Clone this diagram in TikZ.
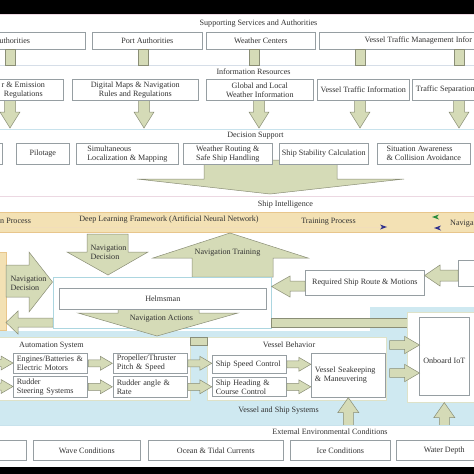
\documentclass[tikz,border=0pt]{standalone}
\usepackage{fontspec}
\setmainfont{Liberation Serif}
\usetikzlibrary{positioning,calc}
\definecolor{ArrowOlive}{RGB}{213,219,183}
\definecolor{ArrowEdge}{RGB}{138,142,118}
\definecolor{BandTan}{RGB}{243,225,180}
\definecolor{BandEdge}{RGB}{232,198,140}
\definecolor{SystemBlue}{RGB}{207,233,241}
\definecolor{BoxEdge}{RGB}{150,158,162}
\definecolor{PanelEdge}{RGB}{172,214,224}
\definecolor{PanelWarm}{RGB}{222,226,200}
\definecolor{RulePink}{RGB}{236,216,226}
\definecolor{RuleBlue}{RGB}{200,226,236}
\definecolor{LabelGray}{RGB}{50,50,50}
\definecolor{MarkGreen}{RGB}{40,140,60}
\definecolor{MarkBlue}{RGB}{50,50,140}

\begin{document}
\begin{tikzpicture}[
		x=1pt, y=-1pt,
		every node/.style={font=\fontsize{8.1}{9}\selectfont, text=LabelGray, inner sep=0pt},
		framed/.style={draw=BoxEdge, fill=white, line width=0.6pt, anchor=north west, align=center},
		leftframed/.style={framed, align=left, text width=#1, inner xsep=3.5pt},
		panel/.style={draw=PanelEdge, fill=white, line width=0.6pt, anchor=north west},
		warmpanel/.style={panel, draw=PanelWarm},
		block/.style={draw=ArrowEdge, fill=ArrowOlive, line width=0.5pt},
		rarrow/.pic={\draw[block] (-12,-3.5) -- (0,-3.5) -- (0,-7) -- (12,0) -- (0,7) -- (0,3.5) -- (-12,3.5) -- cycle;},
		darrow/.pic={\draw[block] (-5.5,-30) -- (5.5,-30) -- (5.5,-16) -- (10,-16) -- (0,0) -- (-10,-16) -- (-5.5,-16) -- cycle;},
		uarrow/.pic={\draw[block] (-5,30) -- (5,30) -- (5,15) -- (10.5,15) -- (0,0) -- (-10.5,15) -- (-5,15) -- cycle;}
	]
	\useasboundingbox (0,0) rectangle (474,474);
	\clip (0,0) rectangle (474,474);
	\fill[white] (0,0) rectangle (474,474);

	% vessel and ship systems area
	\fill[SystemBlue] (0,331) rectangle (474,425);
	\fill[SystemBlue] (370,307) rectangle (474,331);

	% section rules
	\draw[RulePink, line width=0.8pt] (0,14.5) -- (474,14.5);
	\draw[RuleBlue!60!RulePink, line width=0.6pt] (0,65.5) -- (474,65.5);
	\draw[RuleBlue, line width=0.8pt] (0,129) -- (474,129);
	\draw[RulePink, line width=0.8pt] (0,196) -- (474,196);

	\node (supporting) at (258.5,23.5) {Supporting Services and Authorities};
	\node (resources) at (253.5,72) {Information Resources};
	\node (decision) at (255.5,135.5) {Decision Support};
	\node (intelligence) at (285.5,205) {Ship Intelligence};

	% supporting services
	\node[framed, minimum width=141pt, minimum height=17pt] at (-56,32) (authorities) {uthorities};
	\node[framed, minimum width=110pt, minimum height=17pt] at (92,32) (port) {Port Authorities};
	\node[framed, minimum width=109pt, minimum height=17pt] at (206,32) (weathercenters) {Weather Centers};
	\node[framed, minimum width=198pt, minimum height=17pt] at (319,32) (vtm) {Vessel Traffic Management Infor};

	\draw[block] (5,49) rectangle (15,65);
	\draw[block] (138.5,49) rectangle (148.5,65);
	\draw[block] (249,49) rectangle (259,65);
	\draw[block] (355,49) rectangle (365,65);
	\draw[block] (454.5,49) rectangle (464.5,65);

	% information resources
	\pic at (10,128) {darrow};
	\pic at (144,128) {darrow};
	\pic at (259,128) {darrow};
	\pic at (360,128) {darrow};
	\pic at (459,128) {darrow};

	\node[framed, minimum width=80pt, minimum height=21pt] at (-17,79) (emission) {r \& Emission\\Regulations};
	\node[framed, minimum width=126pt, minimum height=21pt] at (72,79) (digitalmaps) {Digital Maps \& Navigation\\Rules and Regulations};
	\node[framed, minimum width=107pt, minimum height=21pt] at (206,79) (globalweather) {Global and Local\\Weather Information};
	\node[framed, minimum width=92pt, minimum height=21pt] at (317,79) (vtinfo) {Vessel Traffic Information};
	\node[framed, minimum width=66pt, minimum height=21pt] at (412,79) (separation) {Traffic Separation};

	% decision support
	\draw[block] (204,160) -- (337,160) -- (337,179) -- (404,179) -- (270,194) -- (137,179) -- (204,179) -- cycle;

	\node[framed, minimum width=42pt, minimum height=21pt] at (-40,143) (leftsupport) {};
	\node[framed, minimum width=53pt, minimum height=21pt] at (16,143) (pilotage) {Pilotage};
	\node[framed, align=left, minimum width=102pt, minimum height=21pt] at (76,143) (slam) {Simultaneous\\Localization \& Mapping};
	\node[framed, align=left, minimum width=89pt, minimum height=21pt] at (183,143) (routing) {Weather Routing \&\\Safe Ship Handling};
	\node[framed, minimum width=89pt, minimum height=21pt] at (279,143) (stability) {Ship Stability Calculation};
	\node[framed, align=left, minimum width=93pt, minimum height=21pt] at (377,143) (awareness) {Situation Awareness\\\& Collision Avoidance};

	% ship intelligence
	\draw[draw=BandEdge, fill=BandTan, line width=0.6pt] (-2,212) rectangle (476,232);
	\draw[BandEdge!60, line width=0.4pt] (0,227) -- (380,227);
	\node[anchor=west] (navprocess) at (0,220.5) {n Process};
	\node (dlframework) at (169,220) {Deep Learning Framework (Artificial Neural Network)};
	\node (training) at (328.5,222) {Training Process};
	\node[anchor=west] (navigation) at (450,223.5) {Naviga};
	\fill[MarkGreen] (432,217) -- (439,214.5) -- (437,217) -- (439,219.5) -- cycle;
	\fill[MarkBlue] (387,227) -- (380,224.5) -- (382,227) -- (380,229.5) -- cycle;
	\fill[MarkBlue] (434,228) -- (441,225.5) -- (439,228) -- (441,230.5) -- cycle;

	\draw[block] (87,234) -- (128,234) -- (128,252) -- (148,252) -- (108,275) -- (67,252) -- (87,252) -- cycle;
	\node[align=left] (decisiondown) at (108.5,252) {Navigation\\Decision};

	\draw[block] (192,277) -- (192,258) -- (153,258) -- (230,233) -- (308,258) -- (273,258) -- (273,277) -- cycle;
	\node (navtraining) at (227.5,252.5) {Navigation Training};

	\draw[draw=BandEdge, fill=BandTan, line width=0.6pt] (-5,252) rectangle (6,330);
	\draw[block] (6,265) -- (29,265) -- (29,252) -- (52.5,282) -- (29,312) -- (29,297) -- (6,297) -- cycle;
	\node[align=left] (decisionright) at (28.5,283) {Navigation\\Decision};
	\draw[block] (53,318) -- (18,318) -- (18,311) -- (6,322.5) -- (18,334) -- (18,327) -- (53,327) -- cycle;

	\node[panel, minimum width=218pt, minimum height=51pt] at (53,277) (helmpanel) {};
	\draw[block] (118,300) -- (199,300) -- (199,313) -- (238,313) -- (157,336) -- (78,313) -- (118,313) -- cycle;
	\node (navactions) at (161.5,318.5) {Navigation Actions};
	\node[framed, minimum width=207pt, minimum height=21pt] at (59,288) (helmsman) {Helmsman};

	\node[framed, minimum width=119pt, minimum height=25pt] at (305,270) (route) {Required Ship Route \& Motions};
	\node[framed, minimum width=30pt, minimum height=26pt] at (458,260) (rightbox) {};
	\draw[block] (route.west |- 0,281) -- (290,281) -- (290,276) -- (helmpanel.east |- 0,286.5) -- (290,297) -- (290,291) -- (route.west |- 0,291) -- cycle;
	\draw[block] (rightbox.west |- 0,270) -- (440,270) -- (440,265) -- (route.east |- 0,275.5) -- (440,286) -- (440,281) -- (rightbox.west |- 0,281) -- cycle;

	% vessel and ship systems
	\draw[block] (helmpanel.east |- 0,318) rectangle (407,327);

	\node[warmpanel, minimum width=200pt, minimum height=63pt] at (-10,337) (automationpanel) {};
	\node[warmpanel, minimum width=179pt, minimum height=63pt] at (207,337) (behaviorpanel) {};
	\node[warmpanel, minimum width=77pt, minimum height=90pt] at (407,312) (iotpanel) {};
	\draw[block] (190,337.5) rectangle (207,345);

	\node (automation) at (51.5,346) {Automation System};
	\node (behavior) at (289,345) {Vessel Behavior};
	\node (systems) at (278.5,411) {Vessel and Ship Systems};

	\node[leftframed=67pt, minimum height=20pt] at (13,353) (engines) {Engines/Batteries \&\\Electric Motors};
	\node[leftframed=67pt, minimum height=21pt] at (13,376) (rudder) {Rudder\\Steering Systems};
	\node[leftframed=67pt, minimum height=20pt] at (113,353) (propeller) {Propeller/Thruster\\Pitch \& Speed};
	\node[leftframed=67pt, minimum height=21pt] at (113,376) (rudderangle) {Rudder angle \&\\Rate};
	\node[leftframed=67pt, minimum height=18pt] at (212,355) (speed) {Ship Speed Control};
	\node[leftframed=67pt, minimum height=19pt] at (212,377) (heading) {Ship Heading \&\\Course Control};
	\node[leftframed=67pt, minimum height=44pt] at (311,353) (seakeeping) {Vessel Seakeeping\\\& Maneuvering};
	\node[framed, minimum width=50pt, minimum height=78pt, text height=14pt, text depth=0pt] at (419,317) (iot) {Onboard IoT};

	\pic at (1,363) {rarrow};
	\pic at (1,386.5) {rarrow};
	\pic at ($(engines.east)!.5!(propeller.west)$) {rarrow};
	\pic at ($(rudder.east)!.5!(rudderangle.west)$) {rarrow};
	\pic at ($(propeller.east)!.5!(propeller.east -| speed.west)$) {rarrow};
	\pic at ($(rudderangle.east)!.5!(rudderangle.east -| heading.west)$) {rarrow};
	\pic at ($(speed.east)!.5!(speed.east -| seakeeping.west)$) {rarrow};
	\pic at ($(heading.east)!.5!(heading.east -| seakeeping.west)$) {rarrow};
	\pic[scale=1.25] at (404.5,345) {rarrow};
	\pic[scale=1.25] at (404.5,373) {rarrow};

	\pic at (seakeeping.south) {uarrow};
	\pic at (iotpanel.south -| iot.south) {uarrow};

	% external environmental conditions
	\fill[white] (0,425) rectangle (474,466);
	\draw[RuleBlue, line width=0.6pt] (0,425) -- (474,425);
	\node (external) at (330,432) {External Environmental Conditions};
	\node[framed, minimum width=66pt, minimum height=20pt] at (-40,440) (leftenv) {};
	\node[framed, minimum width=107pt, minimum height=20pt] at (33,440) (wave) {Wave Conditions};
	\node[framed, minimum width=135pt, minimum height=20pt] at (148,440) (currents) {Ocean \& Tidal Currents};
	\node[framed, minimum width=100pt, minimum height=20pt] at (290,440) (ice) {Ice Conditions};
	\node[framed, minimum width=96pt, minimum height=20pt] at (396,440) (depth) {Water Depth};

	\fill[black] (0,0) rectangle (474,13.5);
	\fill[black] (0,466.5) rectangle (474,474);
\end{tikzpicture}
\end{document}
